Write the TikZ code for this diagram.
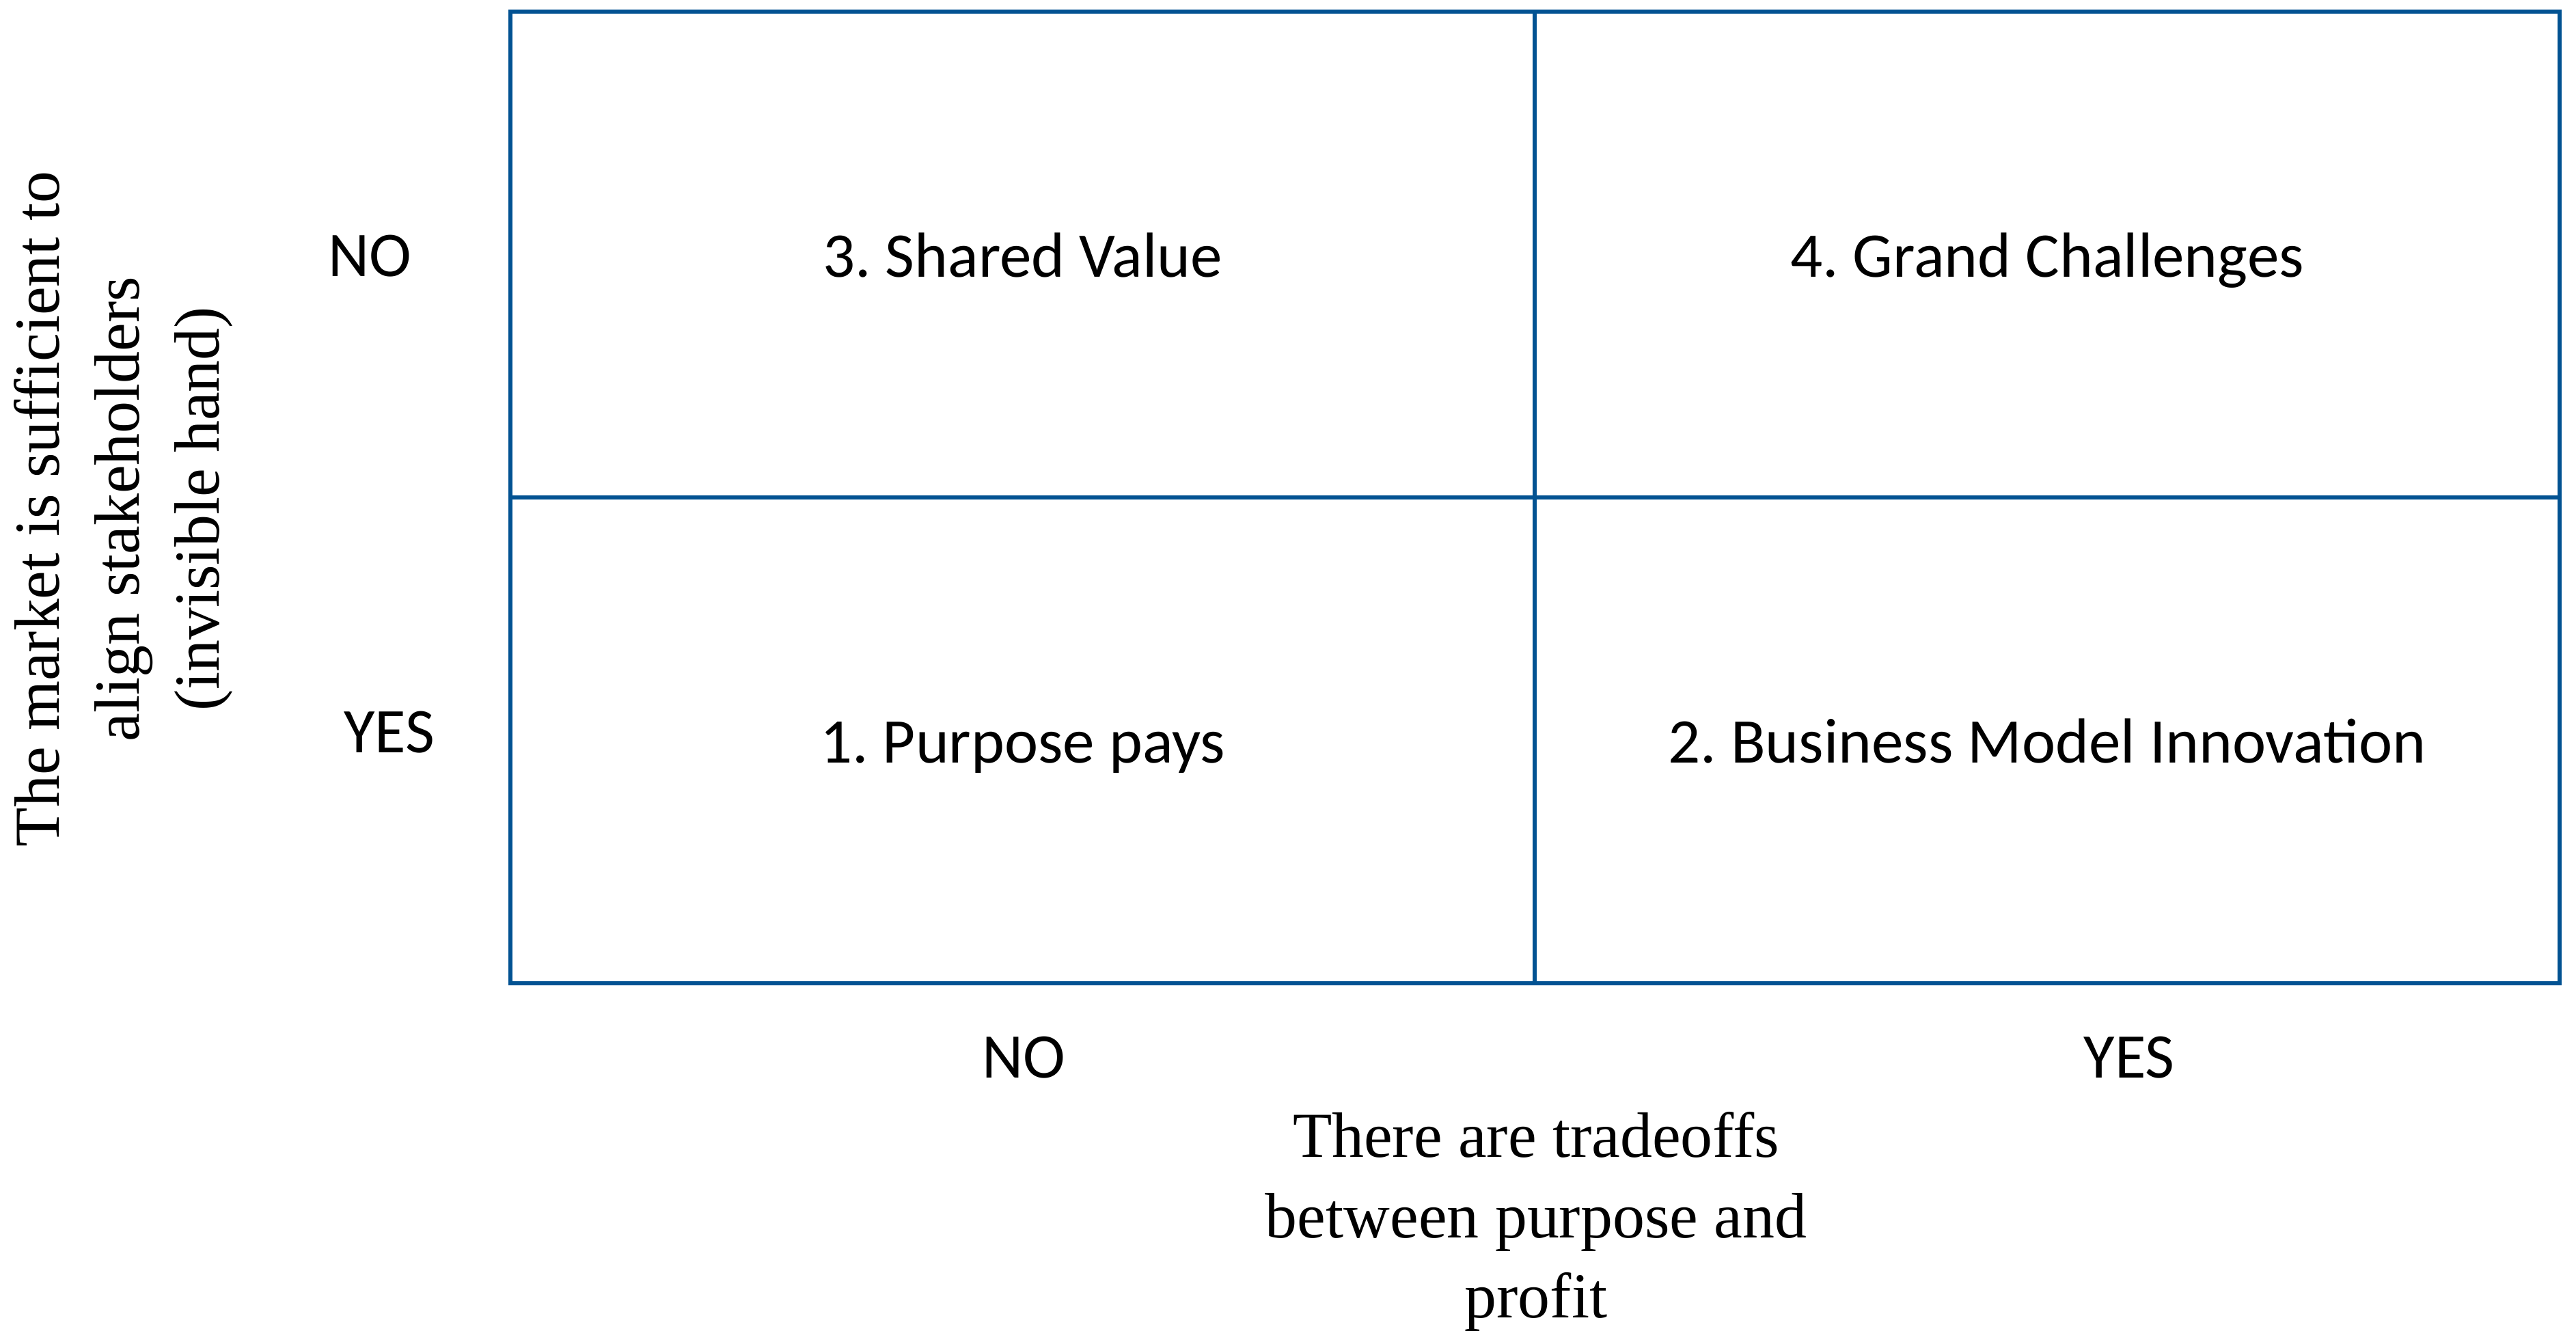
\documentclass[tikz,border=0pt]{standalone}
\usepackage{fontspec}
\setmainfont{Liberation Serif}
\newfontfamily\cellfont{Carlito}
\usetikzlibrary{positioning}
\definecolor{gridblue}{RGB}{2,82,146}
\frenchspacing
\tikzset{
  cell/.style={draw=gridblue,line width=0.06cm,minimum width=14.995cm,minimum height=7.11cm,
    inner sep=0pt,outer sep=0pt,text height=0.76cm,text depth=0.1cm,
    font=\cellfont\fontsize{26.5}{32}\selectfont},
  answer/.style={font=\cellfont\fontsize{26.5}{32}\selectfont,inner sep=0pt},
  axistitle/.style={align=center,font=\fontsize{26.7}{33.3}\selectfont,inner sep=0pt}
}
\begin{document}
\begin{tikzpicture}
                \useasboundingbox (0,0) rectangle (37.7,19.64);
                % the four quadrants
                \node[cell] (shared) at (14.965,15.915) {3. Shared Value};
                \node[cell,right=0pt of shared] (grand) {4. Grand Challenges};
                \node[cell,below=0pt of shared] (pays) {1. Purpose pays};
                \node[cell,right=0pt of pays] (bmi) {2. Business Model Innovation};
                % answers on the axes
                \node[answer] (rowno) at (5.41,15.89) {NO};
                \node[answer] (rowyes) at (5.70,8.92) {YES};
                \node[answer] (colno) at (14.98,4.16) {NO};
                \node[answer] (colyes) at (31.16,4.16) {YES};
                % axis titles
                \node[axistitle] (xtitle) at (22.48,1.76) {There are tradeoffs\\between purpose and\\profit};
                \node[axistitle,rotate=90] (ytitle) at (1.80,12.19) {The market is sufficient to\\align stakeholders\\(invisible hand)};
            \end{tikzpicture}
\end{document}
